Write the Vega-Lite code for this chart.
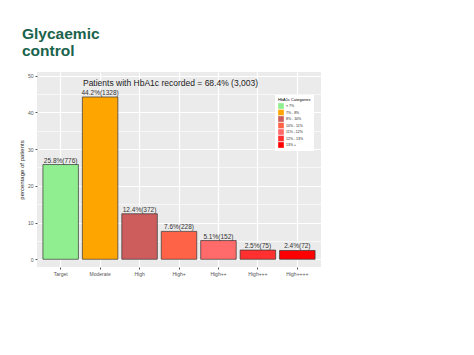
{
  "$schema": "https://vega.github.io/schema/vega-lite/v6.json",
  "autosize": "none",
  "width": 284,
  "height": 195,
  "padding": {"left": 37, "top": 72, "right": 153, "bottom": 88},
  "background": "white",
  "title": {
    "text": ["Glycaemic", "control"],
    "anchor": "start",
    "frame": "group",
    "dx": -15,
    "offset": 13,
    "fontSize": 15.5,
    "fontWeight": "bold",
    "font": "Liberation Sans",
    "color": "#1a634c",
    "lineHeight": 17
  },
  "data": {
    "values": [
      {"category": "Target", "pct": 25.8, "label": "25.8%(776)", "group": "< 7%"},
      {"category": "Moderate", "pct": 44.2, "label": "44.2%(1328)", "group": "7% - 8%"},
      {"category": "High", "pct": 12.4, "label": "12.4%(372)", "group": "8% - 10%"},
      {"category": "High+", "pct": 7.6, "label": "7.6%(228)", "group": "10% - 11%"},
      {"category": "High++", "pct": 5.1, "label": "5.1%(152)", "group": "11% - 12%"},
      {"category": "High+++", "pct": 2.5, "label": "2.5%(75)", "group": "12% - 13%"},
      {"category": "High++++", "pct": 2.4, "label": "2.4%(72)", "group": "13% +"}
    ]
  },
  "config": {
    "view": {"fill": "#EBEBEB", "stroke": null},
    "font": "Liberation Sans"
  },
  "encoding": {
    "y": {
      "field": "pct",
      "type": "quantitative",
      "scale": {"domain": [-2.1, 51], "nice": false, "zero": false},
      "axis": {
        "values": [0, 5, 10, 15, 20, 25, 30, 35, 40, 45, 50],
        "labelExpr": "datum.value % 10 === 0 ? datum.label : ''",
        "labelOverlap": false,
        "title": "percentage of patients",
        "titleFontSize": 6,
        "titleFontWeight": "normal",
        "titleColor": "#222222",
        "titlePadding": 3,
        "labelFontSize": 5,
        "labelColor": "#555555",
        "labelPadding": 2,
        "domain": false,
        "tickSize": 2,
        "tickColor": "#555555",
        "tickOpacity": {"condition": {"test": "datum.value % 10 === 0", "value": 1}, "value": 0},
        "gridColor": "white",
        "gridWidth": {"condition": {"test": "datum.value % 10 === 0", "value": 1.2}, "value": 0.6}
      }
    }
  },
  "layer": [
    {
      "mark": {"type": "bar", "stroke": "#333333", "strokeWidth": 0.7},
      "encoding": {
        "x": {
          "field": "category",
          "type": "nominal",
          "sort": null,
          "scale": {"paddingInner": 0.1, "paddingOuter": 0.15},
          "axis": {
            "orient": "bottom",
            "title": null,
            "labelAngle": 0,
            "labelFontSize": 5,
            "labelColor": "#555555",
            "labelPadding": 2,
            "labelOverlap": false,
            "domain": false,
            "ticks": true,
            "tickSize": 2,
            "tickColor": "#555555",
            "bandPosition": 0.5,
            "grid": true,
            "gridColor": "white",
            "gridWidth": 1.2
          }
        },
        "color": {
          "field": "group",
          "type": "nominal",
          "sort": null,
          "scale": {
            "domain": ["< 7%", "7% - 8%", "8% - 10%", "10% - 11%", "11% - 12%", "12% - 13%", "13% +"],
            "range": ["#90EE90", "#FFA500", "#CD5C5C", "#FF6347", "#FF6A6A", "#FF3030", "#FF0000"]
          },
          "legend": {
            "title": "HbA1c Categories",
            "orient": "none",
            "legendX": 238,
            "legendY": 23,
            "fillColor": "white",
            "padding": 3,
            "titleFontSize": 4,
            "titleFontWeight": "normal",
            "titlePadding": 1,
            "labelFontSize": 3.5,
            "labelColor": "#222222",
            "symbolType": "square",
            "symbolSize": 32,
            "symbolStrokeWidth": 0,
            "rowPadding": 0.5,
            "labelOffset": 2
          }
        }
      }
    },
    {
      "mark": {"type": "text", "baseline": "alphabetic", "dy": -2, "fontSize": 6.5, "color": "#333333"},
      "encoding": {
        "x": {
          "field": "category",
          "type": "nominal",
          "sort": null,
          "axis": {
            "orient": "top",
            "labels": false,
            "ticks": false,
            "domain": false,
            "grid": false,
            "title": "Patients with HbA1c recorded = 68.4% (3,003)",
            "titleFontSize": 8.5,
            "titleFontWeight": "normal",
            "titleColor": "#222222",
            "titleX": 133,
            "titleY": 13,
            "titleAlign": "center",
            "titleBaseline": "alphabetic"
          }
        },
        "text": {"field": "label"}
      }
    }
  ],
  "resolve": {"axis": {"x": "independent"}}
}
